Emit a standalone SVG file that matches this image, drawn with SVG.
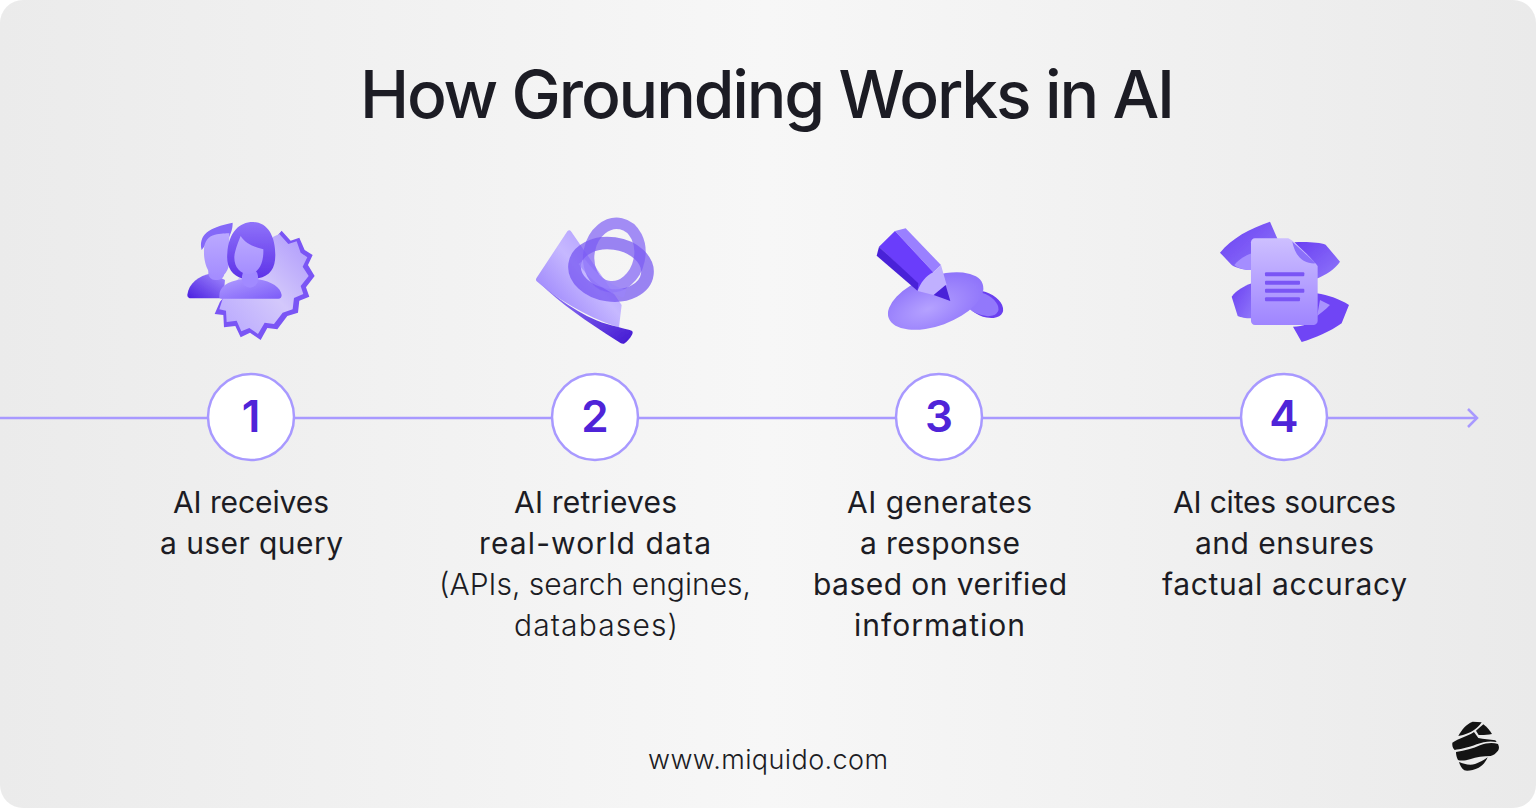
<svg xmlns="http://www.w3.org/2000/svg" width="1536" height="808" viewBox="0 0 1536 808">
<style>
text{font-family:"Inter","Lato",sans-serif;fill:#1c1c24}
.t{font-size:30px;font-weight:400;letter-spacing:0}
.l{font-size:30px;font-weight:300}
.n{font-size:44px;font-weight:600;fill:#4f24d8;text-anchor:middle}
.c{fill:#fff;stroke:#a899ff;stroke-width:2.5}
.ln{fill:none;stroke:#a899ff;stroke-width:2.5}
.bar{fill:#7a55f5}
</style>
<defs>
<linearGradient id="bg" x1="0" y1="0" x2="1" y2="0"><stop offset="0" stop-color="#ebebeb"/><stop offset=".5" stop-color="#f7f7f7"/><stop offset="1" stop-color="#eaeaea"/></linearGradient>
<linearGradient id="star" x1="0" y1="1" x2="1" y2="0"><stop offset="0" stop-color="#b7a6ff"/><stop offset=".5" stop-color="#d3c8fb"/><stop offset="1" stop-color="#ad98fc"/></linearGradient>
<linearGradient id="dark" x1="0" y1="1" x2="1" y2="0"><stop offset="0" stop-color="#4a1fe0"/><stop offset="1" stop-color="#a48dff"/></linearGradient>
<linearGradient id="hair" x1="0" y1="0" x2="0" y2="1"><stop offset="0" stop-color="#8f72fa"/><stop offset="1" stop-color="#5e33e8"/></linearGradient>
<linearGradient id="bust" x1="0" y1="0" x2="1" y2="1"><stop offset="0" stop-color="#b09cff"/><stop offset="1" stop-color="#7c5cf8"/></linearGradient>
<linearGradient id="face" x1="0" y1="0" x2="0" y2="1"><stop offset="0" stop-color="#bba9ff"/><stop offset="1" stop-color="#a48dff"/></linearGradient>
<linearGradient id="sheet" x1="0" y1="1" x2="1" y2="0"><stop offset="0" stop-color="#8a6ffa"/><stop offset=".55" stop-color="#c6b8ff"/><stop offset="1" stop-color="#a68fff"/></linearGradient>
<linearGradient id="fold" x1="0" y1="0" x2="1" y2="1"><stop offset="0" stop-color="#9c85fb"/><stop offset="1" stop-color="#4318d2"/></linearGradient>
<radialGradient id="disk" cx=".4" cy=".6" r=".7"><stop offset="0" stop-color="#b5a2ff"/><stop offset="1" stop-color="#8a6efa"/></radialGradient>
<linearGradient id="doc" x1="0" y1="0" x2="0" y2="1"><stop offset="0" stop-color="#cdbfff"/><stop offset="1" stop-color="#9f85ff"/></linearGradient>
<linearGradient id="rib" x1="0" y1="0" x2="1" y2="1"><stop offset="0" stop-color="#6a3ff2"/><stop offset="1" stop-color="#8f76fa"/></linearGradient>
<filter id="soft" x="-5%" y="-5%" width="110%" height="110%"><feGaussianBlur stdDeviation="0.5"/></filter>
</defs>
<rect width="1536" height="808" fill="#fff"/>
<rect id="background" width="1536" height="808" rx="23" fill="url(#bg)"/>
<text id="title" x="360" y="118" font-size="66" font-weight="500" textLength="815" lengthAdjust="spacing">How Grounding Works in AI</text>

<g id="connectors">
<path class="ln" d="M0 418H1477"/>
<path class="ln" d="M1468 409L1477 418L1468 427"/>
</g>

<g id="step-1">
<g id="icon-1" transform="translate(170 200) scale(.3333)" filter="url(#soft)">
<path fill="#7a55f5" d="M335 92L362 122L388 113L404 150L428 165L414 195L434 228L408 262L418 290L388 302L384 338L352 348L322 388L292 384L272 420L240 398L212 412L196 378L162 382L160 345L134 342L150 305Z"/>
<path fill="url(#star)" d="M328 102L355 132L380 124L392 158L412 172L398 200L416 228L392 258L400 282L372 294L368 328L338 338L312 372L284 368L264 402L238 384L214 394L200 362L170 366L168 332L148 328L160 290L310 110Z"/>
<path fill="url(#dark)" d="M52 285C56 250 85 228 125 220L165 240L160 295H65C56 295 52 292 52 285Z"/>
<rect x="115" y="190" width="48" height="50" rx="20" fill="#a48dff"/>
<path fill="#8468f8" d="M95 150C85 105 115 82 188 68C188 82 186 92 178 110L110 130Z"/>
<path fill="url(#face)" d="M102 150C102 125 115 108 135 104C150 101 170 100 178 100V180C178 215 160 232 142 232C120 232 100 195 102 150Z"/>
<path fill="url(#hair)" d="M172 160C176 95 210 65 250 66C295 68 316 110 316 165C316 205 300 228 265 235H215C185 225 168 200 172 160Z"/>
<path fill="url(#bust)" d="M148 292C146 262 170 245 215 238L265 238C305 245 332 262 335 285C335 292 332 296 325 296H155C150 296 148 295 148 292Z"/>
<rect x="216" y="205" width="48" height="58" rx="24" fill="#a18aff"/>
<path fill="url(#face)" d="M193 170C195 150 205 125 212 108C225 130 250 140 280 148C282 195 262 222 235 222C210 222 192 200 193 170Z"/>
</g>
<circle class="c" cx="251" cy="417" r="43"/>
<text class="n" x="251" y="432">1</text>
<text class="t" x="173" y="513" textLength="156">AI receives</text>
<text class="t" x="160" y="554" textLength="183">a user query</text>
</g>

<g id="step-2">
<g id="icon-2" transform="translate(520 200) scale(.3333)" filter="url(#soft)">
<path fill="url(#sheet)" d="M142 94C146 90 150 90 154 95L305 315L297 382C220 360 120 305 50 244C47 240 47 237 50 233Z"/>
<path fill="url(#fold)" d="M60 250C130 310 210 365 292 380C310 385 325 388 335 392C340 395 338 400 336 404C330 415 322 425 312 431C306 433 300 428 292 423C200 365 120 310 60 250Z"/>
<g fill="none" stroke-opacity=".68">
<ellipse cx="273" cy="208" rx="110" ry="78" transform="rotate(8 273 208)" stroke="#6f4df0" stroke-width="38"/>
<ellipse cx="283" cy="165" rx="76" ry="96" transform="rotate(12 283 165)" stroke="#7b5cf5" stroke-width="34"/>
<path d="M185 185C215 225 260 265 315 282" stroke="#9b84fb" stroke-width="24"/>
</g>
</g>
<circle class="c" cx="595" cy="417" r="43"/>
<text class="n" x="595" y="432">2</text>
<text class="t" x="514" y="513" textLength="163">AI retrieves</text>
<text class="t" x="479" y="554" textLength="232">real-world data</text>
<text class="l" x="439" y="595" textLength="312">(APIs, search engines,</text>
<text class="l" x="514" y="636" textLength="164">databases)</text>
</g>

<g id="step-3">
<g id="icon-3" transform="translate(865 215) scale(.3333)" filter="url(#soft)">
<ellipse cx="358" cy="268" rx="60" ry="36" transform="rotate(25 358 268)" fill="#6a3ff0"/>
<ellipse cx="348" cy="266" rx="56" ry="32" transform="rotate(25 348 266)" fill="#9278fb"/>
<ellipse cx="212" cy="258" rx="150" ry="74" transform="rotate(-20 212 258)" fill="url(#disk)"/>
<path fill="#9a80ff" d="M90 48L122 40L228 150L205 172Z"/>
<path fill="#6a3cfb" d="M42 95L90 48L205 172L160 226L150 200Z"/>
<path fill="#4a22d8" d="M35 122L42 95L160 205L158 228Z"/>
<path fill="#c0b0ff" d="M158 228C165 205 185 180 205 172L228 150L245 210L206 240Z"/>
<path fill="#4a20d8" d="M206 240L242 210L256 258Z"/>
</g>
<circle class="c" cx="939" cy="417" r="43"/>
<text class="n" x="939" y="432">3</text>
<text class="t" x="847" y="513" textLength="185">AI generates</text>
<text class="t" x="860" y="554" textLength="160">a response</text>
<text class="t" x="813" y="595" textLength="254">based on verified</text>
<text class="t" x="854" y="636" textLength="171">information</text>
</g>

<g id="step-4">
<g id="icon-4" transform="translate(1205 210) scale(.3333)" filter="url(#soft)">
<path fill="url(#rib)" d="M45 128C80 85 135 55 195 35L218 88L140 130V180C110 180 90 172 80 165Z"/>
<path fill="#a48dff" d="M88 165C105 145 125 135 140 130V180C115 180 100 175 88 165Z"/>
<path fill="url(#rib)" d="M268 97C310 95 345 98 362 104L405 155C390 178 362 195 335 206L330 165Z"/>
<path fill="url(#rib)" d="M80 260C95 240 118 228 140 220V325C120 325 108 322 98 318Z"/>
<path fill="#7045f5" d="M335 250C370 255 405 268 432 285L410 340C375 365 330 385 290 396L264 350C295 350 320 338 336 320Z"/>
<path fill="#a993fd" d="M270 345C310 340 345 315 375 285L345 270L336 320Z"/>
<path fill="url(#doc)" d="M150 85H250C262 88 325 150 338 168V333C338 340 332 345 325 345H150C143 345 138 340 138 333V97C138 90 143 85 150 85Z"/>
<path fill="#8b6ffa" d="M262 95L332 160C300 162 272 145 262 95Z"/>
<rect class="bar" x="180" y="187" width="118" height="12" rx="3"/>
<rect class="bar" x="180" y="212" width="105" height="12" rx="3"/>
<rect class="bar" x="180" y="236" width="118" height="12" rx="3"/>
<rect class="bar" x="180" y="262" width="105" height="12" rx="3"/>
</g>
<circle class="c" cx="1284" cy="417" r="43"/>
<text class="n" x="1284" y="432">4</text>
<text class="t" x="1173" y="513" textLength="223">AI cites sources</text>
<text class="t" x="1195" y="554" textLength="179">and ensures</text>
<text class="t" x="1162" y="595" textLength="245">factual accuracy</text>
</g>

<text id="url" x="648" y="769" font-weight="300" font-size="27" textLength="240">www.miquido.com</text>

<g id="logo" transform="translate(1430 700) scale(.3333)" fill="#141414">
<path d="M85 108C95 90 108 72 128 65L155 67C148 78 140 85 132 90C120 98 105 105 85 108Z"/>
<path d="M138 92L160 73C172 82 180 92 186 102C172 105 155 106 146 105Z"/>
<path d="M67 128C85 115 115 108 132 96L145 114C160 118 180 118 196 121L200 126C180 122 160 125 140 133C115 143 90 148 74 150C68 145 66 135 67 128Z"/>
<path d="M78 156C105 153 130 145 150 136C170 128 190 128 204 132C208 140 208 146 204 152C198 160 190 166 182 168C160 168 140 170 120 178C105 183 90 182 84 180C80 172 78 164 78 156Z"/>
<path d="M87 186C100 192 120 197 135 192C150 187 162 180 173 172C168 185 158 196 146 203C130 211 112 214 103 211C95 205 90 196 87 186Z"/>
</g>
</svg>
